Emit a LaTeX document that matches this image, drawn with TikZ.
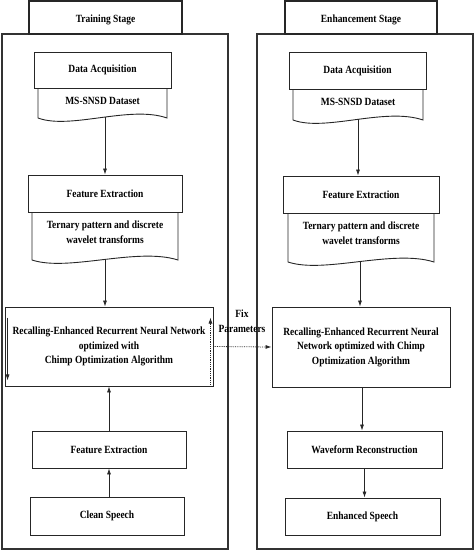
\documentclass[tikz,border=0pt]{standalone}
\usepackage{fontspec}
\setmainfont{Liberation Serif}[FakeStretch=0.86]
\usetikzlibrary{arrows.meta}
\begin{document}
\begin{tikzpicture}[x=1pt,y=-1pt,
  every node/.style={font=\fontsize{11}{14.5}\selectfont\bfseries, align=center, inner sep=0pt},
  box/.style={draw=black!85, fill=white, line width=0.9pt},
  panel/.style={draw=black!80, line width=1.1pt},
  docline/.style={draw=black!85, fill=white, line width=0.9pt},
  arr/.style={draw=black!85, line width=0.7pt, -{Latex[length=6pt,width=4pt]}},
  darr/.style={draw=black!85, line width=0.8pt, densely dotted, -{Latex[length=6pt,width=4pt]}}
]
\useasboundingbox (0,0) rectangle (474,551);
% panels
\draw[panel] (2,34) rectangle (228,549);
\draw[panel] (257,34) rectangle (473,549);
% tabs
\node[box, line width=1.1pt, minimum width=153pt, minimum height=33pt] (tab1) at (105.5,17.5) {};
\node at (105.5,19.5) {Training Stage};
\node[box, line width=1.1pt, minimum width=152pt, minimum height=33pt] (tab2) at (361,17.5) {};
\node at (361,19.5) {Enhancement Stage};
% ---------- training stage ----------
\draw[docline] (38,86) -- (38,118) .. controls (70,130) and (130,105) .. (167,118) -- (167,86);
\coordinate (doc1b) at (105,117);
\node[box, minimum width=137pt, minimum height=36pt] (da1) at (102.5,70) {Data Acquisition};
\node (ms1) at (102.5,101) {MS-SNSD Dataset};

\draw[docline] (32,210) -- (32,260) .. controls (68,272) and (137,247) .. (178,260) -- (178,210);
\coordinate (doc2b) at (105,259);
\node[box, minimum width=154pt, minimum height=37pt] (fe1) at (105,193.5) {Feature Extraction};
\node (tp1) at (105,232) {Ternary pattern and discrete\\wavelet transforms};

\node[box, minimum width=208pt, minimum height=79pt] (renn1) at (109,346.5) {Recalling-Enhanced Recurrent Neural Network\\optimized with\\Chimp Optimization Algorithm};
\node[box, minimum width=154pt, minimum height=37pt] (fe3) at (109,449.5) {Feature Extraction};
\node[box, minimum width=154pt, minimum height=38pt] (cs) at (107,516) {Clean Speech};

\draw[arr] (doc1b) -- (doc1b |- fe1.north);
\draw[arr] (doc2b) -- (doc2b |- renn1.north);
\draw[arr] (fe3.north) -- (renn1.south);
\draw[arr] (cs.north -| fe3.north) -- (fe3.south);
\draw[arr] ([xshift=3pt,yshift=-11pt]renn1.north west) -- ([xshift=3pt,yshift=6pt]renn1.south west);
\draw[darr] ([xshift=-3pt]renn1.south east) -- ([xshift=-3pt,yshift=-11pt]renn1.north east);

% ---------- enhancement stage ----------
\draw[docline] (293,87) -- (293,120) .. controls (325,132) and (385,107) .. (423,120) -- (423,87);
\coordinate (doc3b) at (358,119);
\node[box, minimum width=137pt, minimum height=37pt] (da2) at (357.5,70.5) {Data Acquisition};
\node (ms2) at (358,101.5) {MS-SNSD Dataset};

\draw[docline] (288,211) -- (288,262) .. controls (324,274) and (393,249) .. (434,262) -- (434,211);
\coordinate (doc4b) at (360,261);
\node[box, minimum width=156pt, minimum height=37pt] (fe2) at (361,194.5) {Feature Extraction};
\node (tp2) at (361,233) {Ternary pattern and discrete\\wavelet transforms};

\node[box, minimum width=178pt, minimum height=80pt] (renn2) at (361,347) {Recalling-Enhanced Recurrent Neural\\Network optimized with Chimp\\Optimization Algorithm};
\node[box, minimum width=155pt, minimum height=37pt] (wr) at (364.5,449.5) {Waveform Reconstruction};
\node[box, minimum width=155pt, minimum height=37pt] (es) at (362.5,516.5) {Enhanced Speech};

\draw[arr] (doc3b) -- (doc3b |- fe2.north);
\draw[arr] (doc4b) -- (doc4b |- renn2.north);
\draw[arr] ([xshift=1pt]renn2.south) -- ([xshift=1pt]renn2.south |- wr.north);
\draw[arr] (wr.south) -- (wr.south |- es.north);

% fix parameters
\draw[darr] (renn1.east) -- (renn2.west);
\node (fix) at (242,321) {Fix\\Parameters};
\end{tikzpicture}
\end{document}
